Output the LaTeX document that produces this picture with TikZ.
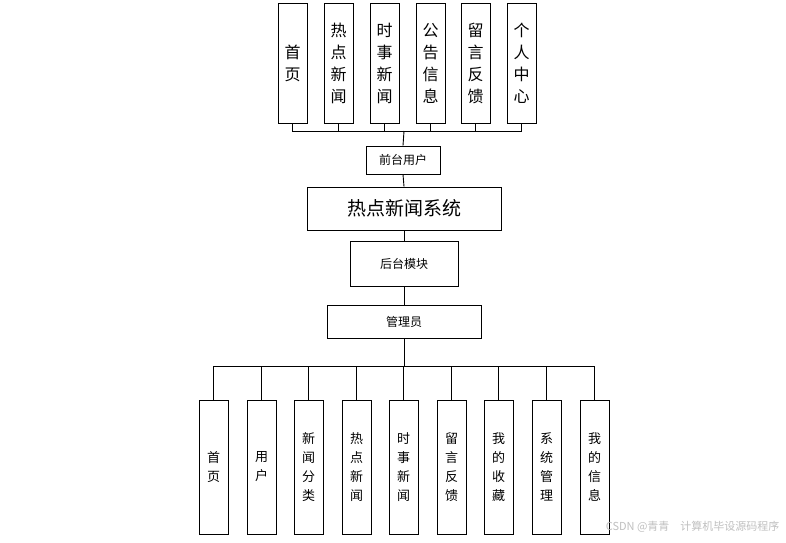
\documentclass[tikz,border=0pt]{standalone}
\usepackage{fontspec}
\setmainfont{Noto Sans CJK SC}
\begin{document}
\begin{tikzpicture}[x=1pt,y=-1pt,
 bx/.style={draw,line width=0.9pt,fill=white,inner sep=0pt,align=center},
 ln/.style={line width=0.9pt}]
\useasboundingbox (0,0) rectangle (786,542);
% top boxes
\foreach \n/\xa/\t in {t1/278/首\\页, t2/324/热\\点\\新\\闻, t3/370/时\\事\\新\\闻, t4/416/公\\告\\信\\息, t5/461/留\\言\\反\\馈, t6/507/个\\人\\中\\心}{
  \node[bx,minimum width=29pt,minimum height=120pt,font=\fontsize{16}{22}\selectfont] (\n) at (\xa+14.5,63) {\t};
}
\node[bx,minimum width=74pt,minimum height=28pt,font=\fontsize{12}{14}\selectfont] (fu) at (403,160) {前台用户};
\node[bx,minimum width=194pt,minimum height=43pt,font=\fontsize{19}{22}\selectfont] (sys) at (404,208.5) {热点新闻系统};
\node[bx,minimum width=108pt,minimum height=45pt,font=\fontsize{12}{14}\selectfont] (hm) at (404,263.5) {后台模块};
\node[bx,minimum width=154pt,minimum height=33pt,font=\fontsize{12}{14}\selectfont] (adm) at (404,321.5) {管理员};
\coordinate (tb) at (404,131);
\foreach \n in {t1,t2,t3,t4,t5,t6}{\draw[ln] (\n.south) |- (tb);}
\draw[ln] (tb) -- (fu.north);
\draw[ln] (fu.south) -- (sys.north);
\draw[ln] (sys.south) -- (hm.north);
\draw[ln] (hm.south) -- (adm.north);
% bottom
\foreach \n/\xa/\t in {b1/199/首\\页, b2/247/用\\户, b3/294/新\\闻\\分\\类, b4/342/热\\点\\新\\闻, b5/389/时\\事\\新\\闻, b6/437/留\\言\\反\\馈, b7/484/我\\的\\收\\藏, b8/532/系\\统\\管\\理, b9/580/我\\的\\信\\息}{
  \node[bx,minimum width=29pt,minimum height=134pt,font=\fontsize{13}{19}\selectfont] (\n) at (\xa+14.5,467) {\t};
}
\coordinate (bb) at (404,366);
\draw[ln] (adm.south) -- (bb);
\foreach \n in {b1,b2,b3,b4,b5,b6,b7,b8,b9}{\draw[ln] (bb) -| (\n.north);}
\node[text=black!25,font=\fontsize{11}{13}\selectfont,anchor=east] (wm) at (783,527) {CSDN @青青\quad 计算机毕设源码程序};
\end{tikzpicture}
\end{document}
